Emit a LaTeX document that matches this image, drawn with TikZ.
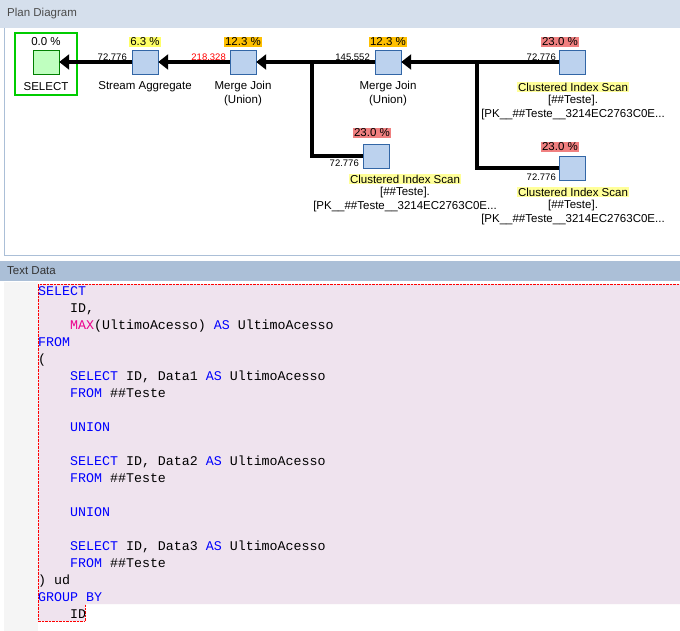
\documentclass[tikz,border=0pt]{standalone}
\usepackage{fontspec}
\setmainfont{Liberation Sans}
\setmonofont{Liberation Mono}
\usetikzlibrary{arrows.meta}
\definecolor{hdrA}{HTML}{D5DFEC}
\definecolor{hdrB}{HTML}{ABBFD7}
\definecolor{pinkbg}{HTML}{EFE3EE}
\definecolor{costY}{HTML}{FFFF66}
\definecolor{costO}{HTML}{FFC000}
\definecolor{costR}{HTML}{F08080}
\definecolor{lblY}{HTML}{FFFF99}
\definecolor{iconB}{HTML}{3F7FCF}
\newcommand{\kw}[1]{\textcolor{blue}{#1}}
\newcommand{\fn}[1]{\textcolor{magenta}{#1}}
\newcommand{\pkname}{[\#\#Teste].\\{[}PK\_\_\#\#Teste\_\_3214EC2763C0E...}
\tikzset{
  lbl/.style={font=\fontsize{11.5}{14}\selectfont, inner sep=1pt},
  cost/.style={lbl, fill=#1},
  rows/.style={font=\fontsize{9.5}{10}\selectfont, inner sep=1pt, anchor=east},
  flow/.style={line width=4.5pt, -{Triangle[length=10pt,width=15pt]}},
  feed/.style={line width=4.5pt},
  icon/.style={draw=iconB!80!black, fill=iconB!35, minimum width=26pt, minimum height=24pt, inner sep=0pt},
  code/.style={font=\ttfamily\fontsize{13.3}{15}\selectfont, anchor=base west, inner sep=0pt}
}
\begin{document}
\begin{tikzpicture}[x=1pt, y=-1pt]
  \useasboundingbox (0,0) rectangle (680,631);
  % panels
  \fill[white] (0,0) rectangle (680,631);
  \fill[hdrA] (0,0) rectangle (680,28);
  \draw[hdrB] (4.5,28) -- (4.5,255) -- (680,255);
  \node[lbl, anchor=west, text=black!70] (plan) at (6,14) {Plan Diagram};
  \fill[hdrB] (0,261) rectangle (680,281);
  \node[lbl, anchor=west, text=black!80] (textdata) at (6,271) {Text Data};
  \fill[black!4] (4,282) rectangle (38,631);
  \fill[pinkbg] (38,284) -- (680,284) -- (680,604) -- (85,604) -- (85,621) -- (38,621) -- cycle;
  \draw[red, densely dotted] (680,284) -- (38,284) -- (38,621) -- (85,621) -- (85,604);

  % operators
  \node[draw=green!80!black, line width=1.5pt, minimum width=62pt, minimum height=62pt] (selbox) at (46,64) {};
  \node[icon, fill=green!25, draw=green!50!black] (sel) at (46,62) {};
  \node[lbl] (selc) at (46,42) {0.0 \%};
  \node[lbl] (sell) at (46,87) {SELECT};

  \node[icon] (agg) at (145,62) {};
  \node[cost=costY] (aggc) at (145,42) {6.3 \%};
  \node[lbl] (aggl) at (145,87) {Stream Aggregate};

  \node[icon] (mj1) at (243,62) {};
  \node[cost=costO] (mj1c) at (243,42) {12.3 \%};
  \node[lbl, align=center] (mj1l) at (243,94) {Merge Join\\(Union)};

  \node[icon] (mj2) at (388,62) {};
  \node[cost=costO] (mj2c) at (388,42) {12.3 \%};
  \node[lbl, align=center] (mj2l) at (388,94) {Merge Join\\(Union)};

  \node[icon] (cis1) at (572,62) {};
  \node[cost=costR] (cis1c) at (560,42) {23.0 \%};
  \node[cost=lblY] (cis1l) at (573,87) {Clustered Index Scan};
  \node[lbl, align=center] (cis1t) at (573,108) {\pkname};

  \node[icon] (cis2) at (376,156) {};
  \node[cost=costR] (cis2c) at (372,133) {23.0 \%};
  \node[cost=lblY] (cis2l) at (405,179) {Clustered Index Scan};
  \node[lbl, align=center] (cis2t) at (405,200) {\pkname};

  \node[icon] (cis3) at (572,168) {};
  \node[cost=costR] (cis3c) at (560,147) {23.0 \%};
  \node[cost=lblY] (cis3l) at (573,192) {Clustered Index Scan};
  \node[lbl, align=center] (cis3t) at (573,213) {\pkname};

  % connectors
  \coordinate (j1) at (312,62);
  \coordinate (j2) at (477,62);
  \draw[flow] (agg) -- (sel);
  \draw[flow] (mj1) -- (agg);
  \draw[flow] (mj2) -- (mj1);
  \draw[flow] (cis1) -- (mj2);
  \draw[feed] (cis2.west) -| (j1);
  \draw[feed] (cis3.west) -| (j2);

  % row counts
  \node[rows] (r1) at (128,57) {72.776};
  \node[rows, text=red] (r2) at (227,57) {218.328};
  \node[rows] (r3) at (371,57) {145.552};
  \node[rows] (r4) at (557,57) {72.776};
  \node[rows] (r5) at (360,163) {72.776};
  \node[rows] (r6) at (557,177) {72.776};

  % query text
  \foreach \n/\ind/\txt in {
      0/0/{\kw{SELECT}},
      1/4/{ID,},
      2/4/{\fn{MAX}(UltimoAcesso) \kw{AS} UltimoAcesso},
      3/0/{\kw{FROM}},
      4/0/{(},
      5/4/{\kw{SELECT} ID, Data1 \kw{AS} UltimoAcesso},
      6/4/{\kw{FROM} \#\#Teste},
      8/4/{\kw{UNION}},
      10/4/{\kw{SELECT} ID, Data2 \kw{AS} UltimoAcesso},
      11/4/{\kw{FROM} \#\#Teste},
      13/4/{\kw{UNION}},
      15/4/{\kw{SELECT} ID, Data3 \kw{AS} UltimoAcesso},
      16/4/{\kw{FROM} \#\#Teste},
      17/0/{) ud},
      18/0/{\kw{GROUP BY}},
      19/4/{ID}}
    \node[code] (q\n) at (38+8*\ind, 295+17*\n) {\txt};
\end{tikzpicture}
\end{document}
